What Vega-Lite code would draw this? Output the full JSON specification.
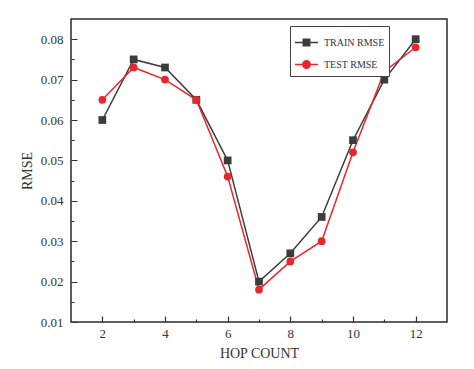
{
  "$schema": "https://vega.github.io/schema/vega-lite/v6.json",
  "width": 376,
  "height": 303,
  "autosize": "none",
  "padding": {"left": 71, "top": 19, "right": 27, "bottom": 47},
  "background": "white",
  "config": {
    "view": {"stroke": "#2a2a2a", "strokeWidth": 1.5},
    "font": "Liberation Serif",
    "axis": {"labelFont": "Liberation Serif", "titleFont": "Liberation Serif", "labelColor": "#333", "titleColor": "#333", "tickColor": "#333", "titleFontWeight": "normal", "grid": false, "domain": false}
  },
  "data": {
    "values": [
      {"hop": 2, "rmse": 0.060, "series": "TRAIN RMSE"},
      {"hop": 3, "rmse": 0.075, "series": "TRAIN RMSE"},
      {"hop": 4, "rmse": 0.073, "series": "TRAIN RMSE"},
      {"hop": 5, "rmse": 0.065, "series": "TRAIN RMSE"},
      {"hop": 6, "rmse": 0.050, "series": "TRAIN RMSE"},
      {"hop": 7, "rmse": 0.020, "series": "TRAIN RMSE"},
      {"hop": 8, "rmse": 0.027, "series": "TRAIN RMSE"},
      {"hop": 9, "rmse": 0.036, "series": "TRAIN RMSE"},
      {"hop": 10, "rmse": 0.055, "series": "TRAIN RMSE"},
      {"hop": 11, "rmse": 0.070, "series": "TRAIN RMSE"},
      {"hop": 12, "rmse": 0.080, "series": "TRAIN RMSE"},
      {"hop": 2, "rmse": 0.065, "series": "TEST RMSE"},
      {"hop": 3, "rmse": 0.073, "series": "TEST RMSE"},
      {"hop": 4, "rmse": 0.070, "series": "TEST RMSE"},
      {"hop": 5, "rmse": 0.065, "series": "TEST RMSE"},
      {"hop": 6, "rmse": 0.046, "series": "TEST RMSE"},
      {"hop": 7, "rmse": 0.018, "series": "TEST RMSE"},
      {"hop": 8, "rmse": 0.025, "series": "TEST RMSE"},
      {"hop": 9, "rmse": 0.030, "series": "TEST RMSE"},
      {"hop": 10, "rmse": 0.052, "series": "TEST RMSE"},
      {"hop": 11, "rmse": 0.072, "series": "TEST RMSE"},
      {"hop": 12, "rmse": 0.078, "series": "TEST RMSE"}
    ]
  },
  "encoding": {
    "x": {
      "field": "hop", "type": "quantitative",
      "scale": {"domain": [1, 13], "nice": false, "zero": false},
      "axis": {
        "values": [2, 3, 4, 5, 6, 7, 8, 9, 10, 11, 12],
        "labelExpr": "datum.value % 2 === 0 ? datum.label : ''",
        "offset": -6,
        "tickSize": 6,
        "tickDash": {"condition": {"test": "datum.value % 2 !== 0", "value": [0, 3, 3, 0]}, "value": [1, 0]},
        "tickWidth": 1.2,
        "labelFontSize": 13,
        "labelPadding": 5,
        "title": "HOP COUNT",
        "titleFontSize": 14,
        "titlePadding": 6
      }
    },
    "y": {
      "field": "rmse", "type": "quantitative",
      "scale": {"domain": [0.01, 0.085], "nice": false, "zero": false},
      "axis": {
        "values": [0.01, 0.015, 0.02, 0.025, 0.03, 0.035, 0.04, 0.045, 0.05, 0.055, 0.06, 0.065, 0.07, 0.075, 0.08],
        "labelExpr": "abs(datum.value*100 - round(datum.value*100)) < 0.001 ? format(datum.value, '.2f') : ''",
        "offset": -6,
        "tickSize": 6,
        "tickDash": {"condition": {"test": "abs(datum.value*100 - round(datum.value*100)) > 0.001", "value": [0, 3, 3, 0]}, "value": [1, 0]},
        "tickWidth": 1.2,
        "labelFontSize": 13,
        "labelPadding": 8,
        "title": "RMSE",
        "titleFontSize": 14,
        "titlePadding": 6
      }
    }
  },
  "layer": [
    {
      "mark": {"type": "line", "strokeWidth": 1.5},
      "encoding": {
        "color": {
          "field": "series", "type": "nominal",
          "scale": {"domain": ["TRAIN RMSE", "TEST RMSE"], "range": ["#3c3c3c", "#e8262c"]},
          "legend": {
            "orient": "none", "legendX": 219, "legendY": 7,
            "title": null,
            "strokeColor": "#444", "fillColor": "white", "padding": 4,
            "labelFont": "Liberation Serif", "labelFontSize": 10, "labelColor": "#333",
            "symbolSize": 529, "symbolStrokeWidth": 1.5, "labelOffset": 5, "rowPadding": 3,
            "encode": {
              "symbols": {
                "update": {
                  "shape": {"signal": "datum.value === 'TRAIN RMSE' ? 'M-1,0H1M-0.28,-0.28H0.28V0.28H-0.28Z' : 'M-1,0H1M0.32,0A0.32,0.32,0,1,1,-0.32,0A0.32,0.32,0,1,1,0.32,0Z'"},
                  "fill": {"signal": "datum.value === 'TRAIN RMSE' ? '#3c3c3c' : '#e8262c'"},
                  "stroke": {"signal": "datum.value === 'TRAIN RMSE' ? '#3c3c3c' : '#e8262c'"},
                  "fillOpacity": {"value": 1},
                  "strokeOpacity": {"value": 1}
                }
              }
            }
          }
        }
      }
    },
    {
      "transform": [{"filter": "datum.series === 'TRAIN RMSE'"}],
      "mark": {"type": "point", "shape": "square", "filled": true, "opacity": 1, "size": 60, "color": "#3c3c3c"}
    },
    {
      "transform": [{"filter": "datum.series === 'TEST RMSE'"}],
      "mark": {"type": "point", "shape": "circle", "filled": true, "opacity": 1, "size": 60, "color": "#e8262c"}
    }
  ]
}
